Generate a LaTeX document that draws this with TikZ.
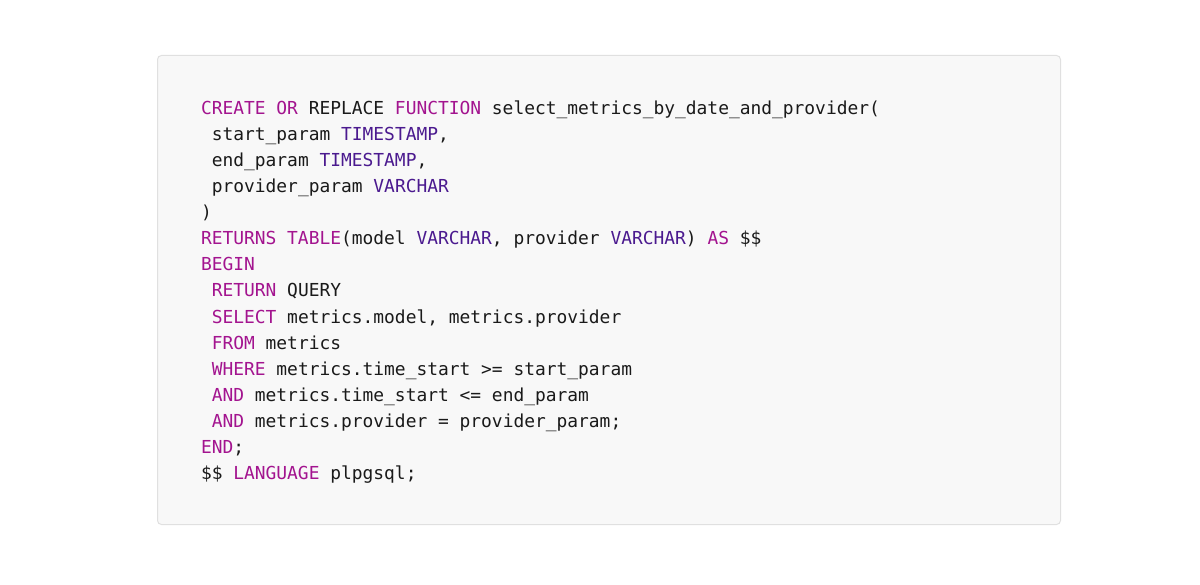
\documentclass[tikz,border=0pt]{standalone}
\usepackage{fontspec}
\newfontfamily\codefont{DejaVu Sans Mono}
\definecolor{kwc}{HTML}{A3148F}
\definecolor{tyc}{HTML}{4B1A8F}
\definecolor{txc}{HTML}{1A1A1A}
\definecolor{boxfill}{HTML}{F8F8F8}
\definecolor{boxline}{HTML}{E0E0E0}
\newcommand{\kw}[1]{\textcolor{kwc}{#1}}
\newcommand{\ty}[1]{\textcolor{tyc}{#1}}
\tikzset{
  codeline/.style={anchor=base west, inner sep=0pt, outer sep=0pt, text=txc,
    font=\codefont\fontsize{17.9pt}{20pt}\selectfont},
  codebox/.style={fill=boxfill, draw=boxline, line width=1pt, rounded corners=4pt}
}
\begin{document}
\begin{tikzpicture}[x=1pt,y=-1pt]
\useasboundingbox[fill=white] (0,0) rectangle (1200,585);
\draw[codebox] (157.5,55.5) rectangle (1060.5,524.5);
\def\lx{201}
\def\ix{211.8}
\def\dy{26.07}
\node[codeline] (l1) at (\lx,114.5) {\kw{CREATE} \kw{OR} REPLACE \kw{FUNCTION} select\_metrics\_by\_date\_and\_provider(};
\node[codeline] (l2) at (\ix,114.5+1*\dy) {start\_param \ty{TIMESTAMP},};
\node[codeline] (l3) at (\ix,114.5+2*\dy) {end\_param \ty{TIMESTAMP},};
\node[codeline] (l4) at (\ix,114.5+3*\dy) {provider\_param \ty{VARCHAR}};
\node[codeline] (l5) at (\lx,114.5+4*\dy) {)};
\node[codeline] (l6) at (\lx,114.5+5*\dy) {\kw{RETURNS} \kw{TABLE}(model \ty{VARCHAR}, provider \ty{VARCHAR}) \kw{AS} \$\$};
\node[codeline] (l7) at (\lx,114.5+6*\dy) {\kw{BEGIN}};
\node[codeline] (l8) at (\ix,114.5+7*\dy) {\kw{RETURN} QUERY};
\node[codeline] (l9) at (\ix,114.5+8*\dy) {\kw{SELECT} metrics.model, metrics.provider};
\node[codeline] (l10) at (\ix,114.5+9*\dy) {\kw{FROM} metrics};
\node[codeline] (l11) at (\ix,114.5+10*\dy) {\kw{WHERE} metrics.time\_start >= start\_param};
\node[codeline] (l12) at (\ix,114.5+11*\dy) {\kw{AND} metrics.time\_start <= end\_param};
\node[codeline] (l13) at (\ix,114.5+12*\dy) {\kw{AND} metrics.provider = provider\_param;};
\node[codeline] (l14) at (\lx,114.5+13*\dy) {\kw{END};};
\node[codeline] (l15) at (\lx,114.5+14*\dy) {\$\$ \kw{LANGUAGE} plpgsql;};
\end{tikzpicture}
\end{document}
